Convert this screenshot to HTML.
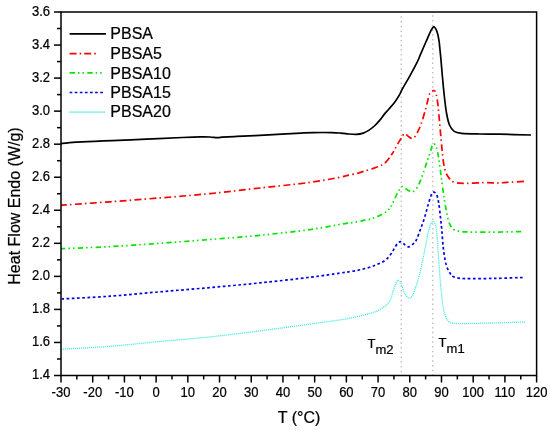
<!DOCTYPE html><html><head><meta charset="utf-8"><style>html,body{margin:0;padding:0;background:#fff}svg{display:block}text{font-family:"Liberation Sans",Arial,sans-serif;fill:#000;stroke:#000;stroke-width:0.22px}</style></head><body>
<svg width="550" height="430" viewBox="0 0 550 430">
<rect width="550" height="430" fill="#fff"/>
<line x1="401.2" y1="12" x2="401.2" y2="375.5" stroke="#b5b5b5" stroke-width="1.2" stroke-dasharray="1.5 3.225" stroke-dashoffset="0.475"/>
<line x1="432.8" y1="12" x2="432.8" y2="375.5" stroke="#b5b5b5" stroke-width="1.2" stroke-dasharray="1.5 3.225" stroke-dashoffset="1.475"/>
<g fill="none" stroke-linejoin="round">
<path d="M61.00 143.60 C62.17 143.47 65.47 143.05 68.00 142.80 C70.53 142.55 71.80 142.35 76.20 142.10 C80.60 141.85 88.35 141.55 94.40 141.30 C100.45 141.05 106.45 140.83 112.50 140.60 C118.55 140.37 123.12 140.23 130.70 139.90 C138.28 139.57 149.40 139.00 158.00 138.60 C166.60 138.20 175.22 137.78 182.30 137.50 C189.38 137.22 195.88 136.98 200.50 136.90 C205.12 136.82 207.25 136.87 210.00 137.00 C212.75 137.13 215.00 137.67 217.00 137.70 C219.00 137.73 218.70 137.42 222.00 137.20 C225.30 136.98 231.30 136.67 236.80 136.40 C242.30 136.13 248.25 135.93 255.00 135.60 C261.75 135.27 269.65 134.82 277.30 134.40 C284.95 133.98 294.85 133.40 300.90 133.10 C306.95 132.80 308.45 132.68 313.60 132.60 C318.75 132.52 327.25 132.52 331.80 132.60 C336.35 132.68 338.37 132.90 340.90 133.10 C343.43 133.30 344.43 133.58 347.00 133.80 C349.57 134.02 353.58 134.52 356.30 134.40 C359.02 134.28 361.17 133.82 363.30 133.10 C365.43 132.38 367.17 131.37 369.10 130.10 C371.03 128.83 372.97 127.33 374.90 125.50 C376.83 123.67 379.15 120.95 380.70 119.10 C382.25 117.25 382.85 116.05 384.20 114.40 C385.55 112.75 387.05 111.23 388.80 109.20 C390.55 107.17 392.95 104.53 394.70 102.20 C396.45 99.87 398.02 97.43 399.30 95.20 C400.58 92.97 400.63 92.03 402.40 88.80 C404.17 85.57 407.42 80.28 409.90 75.80 C412.38 71.32 415.53 65.47 417.30 61.90 C419.07 58.33 419.43 56.88 420.50 54.40 C421.57 51.92 422.55 49.63 423.70 47.00 C424.85 44.37 426.23 41.23 427.40 38.60 C428.57 35.97 429.68 33.18 430.70 31.20 C431.72 29.22 432.65 27.10 433.50 26.70 C434.35 26.30 435.10 27.58 435.80 28.80 C436.50 30.02 437.15 31.90 437.70 34.00 C438.25 36.10 438.72 38.77 439.10 41.40 C439.48 44.03 439.70 46.87 440.00 49.80 C440.30 52.73 440.48 54.38 440.90 59.00 C441.32 63.62 441.93 71.33 442.50 77.50 C443.07 83.67 443.63 90.08 444.30 96.00 C444.97 101.92 445.63 108.17 446.50 113.00 C447.37 117.83 448.22 121.93 449.50 125.00 C450.78 128.07 452.18 130.02 454.20 131.40 C456.22 132.78 457.30 132.87 461.60 133.30 C465.90 133.73 473.77 133.85 480.00 134.00 C486.23 134.15 490.50 134.03 499.00 134.20 C507.50 134.37 525.67 134.87 531.00 135.00" stroke="#000" stroke-width="1.7"/>
<path d="M61.00 205.20 C69.17 204.63 93.50 203.02 110.00 201.80 C126.50 200.58 143.33 199.27 160.00 197.90 C176.67 196.53 193.33 195.25 210.00 193.60 C226.67 191.95 243.33 189.87 260.00 188.00 C276.67 186.13 296.40 184.25 310.00 182.40 C323.60 180.55 335.33 178.07 341.60 176.90 C347.87 175.73 344.97 176.00 347.60 175.40 C350.23 174.80 354.85 173.93 357.40 173.30 C359.95 172.67 360.35 172.38 362.90 171.60 C365.45 170.82 369.52 169.68 372.70 168.60 C375.88 167.52 379.82 166.17 382.00 165.10 C384.18 164.03 384.25 163.87 385.80 162.20 C387.35 160.53 389.90 157.05 391.30 155.10" stroke="#f00" stroke-width="1.7" stroke-dasharray="6.9 3.1 1.5 3.45" stroke-dashoffset="0.95"/>
<path d="M391.30 155.10 C392.70 153.15 393.32 152.05 394.20 150.50 C395.08 148.95 395.67 147.47 396.60 145.80 C397.53 144.13 398.87 142.00 399.80 140.50 C400.73 139.00 401.42 138.02 402.20 136.80 C402.98 135.58 403.53 133.32 404.50 133.20 C405.47 133.08 406.83 135.25 408.00 136.10 C409.17 136.95 410.43 138.13 411.50 138.30 C412.57 138.47 413.43 138.03 414.40 137.10 C415.37 136.17 416.18 134.88 417.30 132.70 C418.42 130.52 419.80 127.63 421.10 124.00 C422.40 120.37 424.02 114.70 425.10 110.90 C426.18 107.10 426.78 104.18 427.60 101.20 C428.42 98.22 428.88 94.77 430.00 93.00 C431.12 91.23 433.25 90.32 434.30 90.60" stroke="#f00" stroke-width="1.7" stroke-dasharray="6.9 3.1 1.5 3.45" stroke-dashoffset="2.25"/>
<path d="M434.30 90.60 C435.35 90.88 435.73 92.67 436.30 94.70 C436.87 96.73 437.25 99.28 437.70 102.80 C438.15 106.32 438.52 110.65 439.00 115.80 C439.48 120.95 440.07 127.83 440.60 133.70 C441.13 139.57 441.60 145.53 442.20 151.00 C442.80 156.47 443.32 162.37 444.20 166.50 C445.08 170.63 445.87 173.18 447.50 175.80 C449.13 178.42 450.73 180.95 454.00 182.20 C457.27 183.45 462.02 183.23 467.10 183.30 C472.18 183.37 479.42 182.65 484.50 182.60 C489.58 182.55 493.95 183.03 497.60 183.00 C501.25 182.97 501.83 182.68 506.40 182.40 C510.97 182.12 521.90 181.48 525.00 181.30" stroke="#f00" stroke-width="1.7" stroke-dasharray="6.9 3.1 1.5 3.45" stroke-dashoffset="5.39"/>
<path d="M61.00 248.70 C69.17 248.35 93.50 247.50 110.00 246.60 C126.50 245.70 143.33 244.48 160.00 243.30 C176.67 242.12 193.33 240.83 210.00 239.50 C226.67 238.17 243.33 236.95 260.00 235.30 C276.67 233.65 296.12 231.52 310.00 229.60 C323.88 227.68 336.48 224.92 343.30 223.80 C350.12 222.68 347.82 223.40 350.90 222.90 C353.98 222.40 358.72 221.38 361.80 220.80 C364.88 220.22 367.40 219.87 369.40 219.40 C371.40 218.93 372.07 218.67 373.80 218.00 C375.53 217.33 377.62 216.53 379.80 215.40 C381.98 214.27 385.08 212.67 386.90 211.20 C388.72 209.73 389.52 208.42 390.70 206.60" stroke="#00e600" stroke-width="1.7" stroke-dasharray="5.2 3.1 1.5 3.1 1.5 3.35" stroke-dashoffset="0.85"/>
<path d="M390.70 206.60 C391.88 204.78 392.90 202.50 394.00 200.30 C395.10 198.10 396.37 195.18 397.30 193.40 C398.23 191.62 398.85 190.72 399.60 189.60 C400.35 188.48 401.13 187.08 401.80 186.70 C402.47 186.32 402.50 186.68 403.60 187.30 C404.70 187.92 406.93 189.63 408.40 190.40 C409.87 191.17 411.02 192.28 412.40 191.90 C413.78 191.52 415.55 189.53 416.70 188.10 C417.85 186.67 418.37 185.35 419.30 183.30 C420.23 181.25 420.98 179.48 422.30 175.80 C423.62 172.12 425.83 165.27 427.20 161.20 C428.57 157.13 429.55 154.25 430.50 151.40 C431.45 148.55 431.95 144.92 432.90 144.10" stroke="#00e600" stroke-width="1.7" stroke-dasharray="5.2 3.1 1.5 3.1 1.5 3.35" stroke-dashoffset="8.20"/>
<path d="M432.90 144.10 C433.85 143.28 435.25 144.20 436.20 146.50 C437.15 148.80 437.78 153.02 438.60 157.90 C439.42 162.78 440.28 169.83 441.10 175.80 C441.92 181.77 442.80 188.83 443.50 193.70 C444.20 198.57 444.55 200.78 445.30 205.00 C446.05 209.22 447.05 215.42 448.00 219.00 C448.95 222.58 449.83 224.67 451.00 226.50 C452.17 228.33 452.67 229.12 455.00 230.00 C457.33 230.88 460.00 231.43 465.00 231.80 C470.00 232.17 475.50 232.23 485.00 232.20 C494.50 232.17 515.83 231.70 522.00 231.60" stroke="#00e600" stroke-width="1.7" stroke-dasharray="5.2 3.1 1.5 3.1 1.5 3.35" stroke-dashoffset="7.16"/>
<path d="M61.00 299.00 C69.17 298.53 93.50 297.40 110.00 296.20 C126.50 295.00 143.33 293.23 160.00 291.80 C176.67 290.37 193.33 289.08 210.00 287.60 C226.67 286.12 243.33 284.62 260.00 282.90 C276.67 281.18 296.67 278.93 310.00 277.30 C323.33 275.67 333.18 274.07 340.00 273.10 C346.82 272.13 347.27 272.12 350.90 271.50 C354.53 270.88 358.35 270.22 361.80 269.40 C365.25 268.58 369.05 267.43 371.60 266.60 C374.15 265.77 375.28 265.15 377.10 264.40 C378.92 263.65 380.78 263.10 382.50 262.10 C384.22 261.10 385.93 259.83 387.40 258.40 C388.87 256.97 390.12 255.22 391.30 253.50 C392.48 251.78 393.42 249.82 394.50 248.10 C395.58 246.38 396.67 244.25 397.80 243.20 C398.93 242.15 400.03 241.48 401.30 241.80 C402.57 242.12 404.05 244.27 405.40 245.10 C406.75 245.93 407.92 247.18 409.40 246.80 C410.88 246.42 413.10 244.03 414.30 242.80 C415.50 241.57 415.55 241.70 416.60 239.40 C417.65 237.10 419.27 232.63 420.60 229.00 C421.93 225.37 423.33 221.68 424.60 217.60 C425.87 213.52 426.93 208.60 428.20 204.50 C429.47 200.40 430.85 194.75 432.20 193.00 C433.55 191.25 435.22 192.35 436.30 194.00 C437.38 195.65 438.02 199.10 438.70 202.90 C439.38 206.70 439.88 212.28 440.40 216.80 C440.92 221.32 441.33 224.97 441.80 230.00 C442.27 235.03 442.63 241.92 443.20 247.00 C443.77 252.08 444.48 256.92 445.20 260.50 C445.92 264.08 446.60 266.25 447.50 268.50 C448.40 270.75 449.52 272.58 450.60 274.00 C451.68 275.42 451.60 276.23 454.00 277.00 C456.40 277.77 458.17 278.37 465.00 278.60 C471.83 278.83 485.00 278.60 495.00 278.40 C505.00 278.20 520.00 277.57 525.00 277.40" stroke="#0000e6" stroke-width="1.7" stroke-dasharray="2.7 2.52" stroke-dashoffset="4.78"/>
<path d="M61.00 349.20 C69.17 348.72 93.50 347.58 110.00 346.30 C126.50 345.02 143.33 343.07 160.00 341.50 C176.67 339.93 193.33 338.68 210.00 336.90 C226.67 335.12 243.33 332.93 260.00 330.80 C276.67 328.67 296.67 325.92 310.00 324.10 C323.33 322.28 332.58 321.03 340.00 319.90 C347.42 318.77 349.65 318.35 354.50 317.30 C359.35 316.25 365.22 314.70 369.10 313.60 C372.98 312.50 375.38 311.78 377.80 310.70 C380.22 309.62 381.90 308.33 383.60 307.10 C385.30 305.87 386.78 304.75 388.00 303.30 C389.22 301.85 389.93 300.75 390.90 298.40 C391.87 296.05 392.95 291.72 393.80 289.20 C394.65 286.68 395.27 284.82 396.00 283.30 C396.73 281.78 397.35 280.02 398.20 280.10 C399.05 280.18 400.13 281.88 401.10 283.80 C402.07 285.72 403.03 289.47 404.00 291.60 C404.97 293.73 405.98 295.50 406.90 296.60 C407.82 297.70 408.53 298.42 409.50 298.20 C410.47 297.98 411.68 297.08 412.70 295.30 C413.72 293.52 414.50 290.83 415.60 287.50 C416.70 284.17 418.00 280.42 419.30 275.30 C420.60 270.18 422.13 262.90 423.40 256.80 C424.67 250.70 425.97 243.25 426.90 238.70 C427.83 234.15 428.32 232.02 429.00 229.50 C429.68 226.98 430.25 224.95 431.00 223.60 C431.75 222.25 432.72 221.08 433.50 221.40 C434.28 221.72 435.12 223.08 435.70 225.50 C436.28 227.92 436.62 231.83 437.00 235.90 C437.38 239.97 437.67 245.25 438.00 249.90 C438.33 254.55 438.63 258.78 439.00 263.80 C439.37 268.82 439.60 273.37 440.20 280.00 C440.80 286.63 441.77 297.68 442.60 303.60 C443.43 309.52 444.30 312.72 445.20 315.50 C446.10 318.28 446.63 319.00 448.00 320.30 C449.37 321.60 448.37 322.80 453.40 323.30 C458.43 323.80 466.27 323.52 478.20 323.30 C490.13 323.08 517.20 322.22 525.00 322.00" stroke="#2ee6dc" stroke-width="1.3" stroke-dasharray="1 1"/>
</g>
<g stroke="#000" stroke-width="1.5" fill="none">
<rect x="61" y="12" width="475.6" height="363.5"/>
<line x1="61.00" y1="375.5" x2="61.00" y2="382.50"/>
<line x1="76.85" y1="375.5" x2="76.85" y2="379.50"/>
<line x1="92.71" y1="375.5" x2="92.71" y2="382.50"/>
<line x1="108.56" y1="375.5" x2="108.56" y2="379.50"/>
<line x1="124.41" y1="375.5" x2="124.41" y2="382.50"/>
<line x1="140.27" y1="375.5" x2="140.27" y2="379.50"/>
<line x1="156.12" y1="375.5" x2="156.12" y2="382.50"/>
<line x1="171.97" y1="375.5" x2="171.97" y2="379.50"/>
<line x1="187.83" y1="375.5" x2="187.83" y2="382.50"/>
<line x1="203.68" y1="375.5" x2="203.68" y2="379.50"/>
<line x1="219.53" y1="375.5" x2="219.53" y2="382.50"/>
<line x1="235.39" y1="375.5" x2="235.39" y2="379.50"/>
<line x1="251.24" y1="375.5" x2="251.24" y2="382.50"/>
<line x1="267.10" y1="375.5" x2="267.10" y2="379.50"/>
<line x1="282.95" y1="375.5" x2="282.95" y2="382.50"/>
<line x1="298.80" y1="375.5" x2="298.80" y2="379.50"/>
<line x1="314.66" y1="375.5" x2="314.66" y2="382.50"/>
<line x1="330.51" y1="375.5" x2="330.51" y2="379.50"/>
<line x1="346.36" y1="375.5" x2="346.36" y2="382.50"/>
<line x1="362.22" y1="375.5" x2="362.22" y2="379.50"/>
<line x1="378.07" y1="375.5" x2="378.07" y2="382.50"/>
<line x1="393.92" y1="375.5" x2="393.92" y2="379.50"/>
<line x1="409.78" y1="375.5" x2="409.78" y2="382.50"/>
<line x1="425.63" y1="375.5" x2="425.63" y2="379.50"/>
<line x1="441.48" y1="375.5" x2="441.48" y2="382.50"/>
<line x1="457.34" y1="375.5" x2="457.34" y2="379.50"/>
<line x1="473.19" y1="375.5" x2="473.19" y2="382.50"/>
<line x1="489.04" y1="375.5" x2="489.04" y2="379.50"/>
<line x1="504.90" y1="375.5" x2="504.90" y2="382.50"/>
<line x1="520.75" y1="375.5" x2="520.75" y2="379.50"/>
<line x1="536.61" y1="375.5" x2="536.61" y2="382.50"/>
<line x1="61" y1="375.51" x2="54.00" y2="375.51"/>
<line x1="61" y1="358.98" x2="57.00" y2="358.98"/>
<line x1="61" y1="342.46" x2="54.00" y2="342.46"/>
<line x1="61" y1="325.94" x2="57.00" y2="325.94"/>
<line x1="61" y1="309.41" x2="54.00" y2="309.41"/>
<line x1="61" y1="292.89" x2="57.00" y2="292.89"/>
<line x1="61" y1="276.37" x2="54.00" y2="276.37"/>
<line x1="61" y1="259.84" x2="57.00" y2="259.84"/>
<line x1="61" y1="243.32" x2="54.00" y2="243.32"/>
<line x1="61" y1="226.80" x2="57.00" y2="226.80"/>
<line x1="61" y1="210.28" x2="54.00" y2="210.28"/>
<line x1="61" y1="193.75" x2="57.00" y2="193.75"/>
<line x1="61" y1="177.23" x2="54.00" y2="177.23"/>
<line x1="61" y1="160.71" x2="57.00" y2="160.71"/>
<line x1="61" y1="144.18" x2="54.00" y2="144.18"/>
<line x1="61" y1="127.66" x2="57.00" y2="127.66"/>
<line x1="61" y1="111.14" x2="54.00" y2="111.14"/>
<line x1="61" y1="94.61" x2="57.00" y2="94.61"/>
<line x1="61" y1="78.09" x2="54.00" y2="78.09"/>
<line x1="61" y1="61.57" x2="57.00" y2="61.57"/>
<line x1="61" y1="45.05" x2="54.00" y2="45.05"/>
<line x1="61" y1="28.52" x2="57.00" y2="28.52"/>
<line x1="61" y1="12.00" x2="54.00" y2="12.00"/>
</g>
<g font-size="13">
<text transform="translate(61.00 396.8) scale(1 1.07)" text-anchor="middle">-30</text>
<text transform="translate(92.71 396.8) scale(1 1.07)" text-anchor="middle">-20</text>
<text transform="translate(124.41 396.8) scale(1 1.07)" text-anchor="middle">-10</text>
<text transform="translate(156.12 396.8) scale(1 1.07)" text-anchor="middle">0</text>
<text transform="translate(187.83 396.8) scale(1 1.07)" text-anchor="middle">10</text>
<text transform="translate(219.53 396.8) scale(1 1.07)" text-anchor="middle">20</text>
<text transform="translate(251.24 396.8) scale(1 1.07)" text-anchor="middle">30</text>
<text transform="translate(282.95 396.8) scale(1 1.07)" text-anchor="middle">40</text>
<text transform="translate(314.66 396.8) scale(1 1.07)" text-anchor="middle">50</text>
<text transform="translate(346.36 396.8) scale(1 1.07)" text-anchor="middle">60</text>
<text transform="translate(378.07 396.8) scale(1 1.07)" text-anchor="middle">70</text>
<text transform="translate(409.78 396.8) scale(1 1.07)" text-anchor="middle">80</text>
<text transform="translate(441.48 396.8) scale(1 1.07)" text-anchor="middle">90</text>
<text transform="translate(473.19 396.8) scale(1 1.07)" text-anchor="middle">100</text>
<text transform="translate(504.90 396.8) scale(1 1.07)" text-anchor="middle">110</text>
<text transform="translate(536.61 396.8) scale(1 1.07)" text-anchor="middle">120</text>
<text transform="translate(50.0 379.41) scale(1 1.07)" text-anchor="end">1.4</text>
<text transform="translate(50.0 346.36) scale(1 1.07)" text-anchor="end">1.6</text>
<text transform="translate(50.0 313.31) scale(1 1.07)" text-anchor="end">1.8</text>
<text transform="translate(50.0 280.27) scale(1 1.07)" text-anchor="end">2.0</text>
<text transform="translate(50.0 247.22) scale(1 1.07)" text-anchor="end">2.2</text>
<text transform="translate(50.0 214.18) scale(1 1.07)" text-anchor="end">2.4</text>
<text transform="translate(50.0 181.13) scale(1 1.07)" text-anchor="end">2.6</text>
<text transform="translate(50.0 148.08) scale(1 1.07)" text-anchor="end">2.8</text>
<text transform="translate(50.0 115.04) scale(1 1.07)" text-anchor="end">3.0</text>
<text transform="translate(50.0 81.99) scale(1 1.07)" text-anchor="end">3.2</text>
<text transform="translate(50.0 48.95) scale(1 1.07)" text-anchor="end">3.4</text>
<text transform="translate(50.0 15.90) scale(1 1.07)" text-anchor="end">3.6</text>
</g>
<text x="299" y="423.0" font-size="16" text-anchor="middle">T (°C)</text>
<text transform="translate(20.2 206) rotate(-90)" font-size="16" text-anchor="middle">Heat Flow Endo (W/g)</text>
<line x1="69.6" y1="33.9" x2="106.0" y2="33.9" stroke="#000" stroke-width="1.7"/>
<text x="110.3" y="39.4" font-size="16">PBSA</text>
<line x1="69.6" y1="53.6" x2="97.0" y2="53.6" stroke="#f00" stroke-width="1.7" stroke-dasharray="7 3 1.6 3"/>
<text x="110.3" y="59.0" font-size="16">PBSA5</text>
<line x1="69.6" y1="72.9" x2="102.3" y2="72.9" stroke="#00e600" stroke-width="1.7" stroke-dasharray="5.4 3 1.5 3 1.5 3.3"/>
<text x="110.3" y="78.5" font-size="16">PBSA10</text>
<line x1="69.6" y1="92.5" x2="104.0" y2="92.5" stroke="#0000e6" stroke-width="1.7" stroke-dasharray="2.7 2.4"/>
<text x="110.3" y="98.0" font-size="16">PBSA15</text>
<line x1="69.6" y1="112.2" x2="104.9" y2="112.2" stroke="#2ee6dc" stroke-width="1.7" stroke-dasharray="1 1"/>
<text x="110.3" y="117.4" font-size="16">PBSA20</text>
<text x="367.5" y="347.7" font-size="13">T<tspan dy="5.9">m2</tspan></text>
<text x="438.6" y="346.6" font-size="13">T<tspan dy="5.9">m1</tspan></text>
</svg></body></html>
